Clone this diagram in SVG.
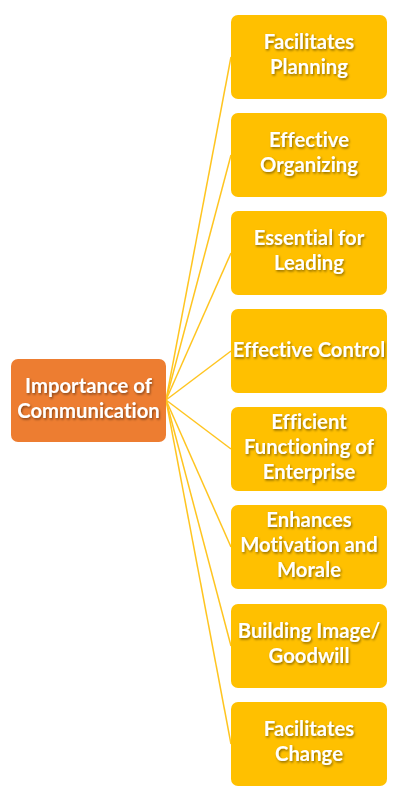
<svg xmlns="http://www.w3.org/2000/svg" width="400" height="800" viewBox="0 0 400 800">
<defs>
<filter id="sh" x="-10%" y="-30%" width="130%" height="160%">
<feDropShadow dx="1" dy="1.5" stdDeviation="0.8" flood-color="#000" flood-opacity="0.45"/>
</filter>
</defs>
<style>
.c{stroke:#FFC520;stroke-width:1.5;fill:none}
.y{fill:#FFC000}
.o{fill:#ED7D31}
text{font-family:Lato,"Liberation Sans",sans-serif;font-weight:bold;font-size:20.3px;fill:#fff;text-anchor:middle;font-variant-ligatures:none;filter:url(#sh)}
</style>
<rect width="400" height="800" fill="#fff"/>
<g id="connectors">
<line class="c" x1="166" y1="400" x2="231" y2="57"/>
<line class="c" x1="166" y1="400" x2="231" y2="155"/>
<line class="c" x1="166" y1="400" x2="231" y2="253"/>
<line class="c" x1="166" y1="400" x2="231" y2="351"/>
<line class="c" x1="166" y1="400" x2="231" y2="449"/>
<line class="c" x1="166" y1="400" x2="231" y2="547"/>
<line class="c" x1="166" y1="400" x2="231" y2="646"/>
<line class="c" x1="166" y1="400" x2="231" y2="744"/>
</g>
<g id="root">
<rect class="o" x="11" y="359" width="155" height="83" rx="7"/>
<text x="88.5" y="393">Importance of</text>
<text x="88.5" y="418">Communication</text>
</g>
<g id="n1">
<rect class="y" x="231" y="15" width="156" height="84" rx="7"/>
<text x="309" y="49">Facilitates</text>
<text x="309" y="74">Planning</text>
</g>
<g id="n2">
<rect class="y" x="231" y="113" width="156" height="84" rx="7"/>
<text x="309" y="147">Effective</text>
<text x="309" y="172">Organizing</text>
</g>
<g id="n3">
<rect class="y" x="231" y="211" width="156" height="84" rx="7"/>
<text x="309" y="245">Essential for</text>
<text x="309" y="270">Leading</text>
</g>
<g id="n4">
<rect class="y" x="231" y="309" width="156" height="84" rx="7"/>
<text x="309" y="357">Effective Control</text>
</g>
<g id="n5">
<rect class="y" x="231" y="407" width="156" height="84" rx="7"/>
<text x="309" y="429">Efficient</text>
<text x="309" y="454">Functioning of</text>
<text x="309" y="479">Enterprise</text>
</g>
<g id="n6">
<rect class="y" x="231" y="505" width="156" height="84" rx="7"/>
<text x="309" y="527">Enhances</text>
<text x="309" y="552">Motivation and</text>
<text x="309" y="577">Morale</text>
</g>
<g id="n7">
<rect class="y" x="231" y="604" width="156" height="84" rx="7"/>
<text x="309" y="638">Building Image/</text>
<text x="309" y="663">Goodwill</text>
</g>
<g id="n8">
<rect class="y" x="231" y="702" width="156" height="84" rx="7"/>
<text x="309" y="736">Facilitates</text>
<text x="309" y="761">Change</text>
</g>
</svg>
